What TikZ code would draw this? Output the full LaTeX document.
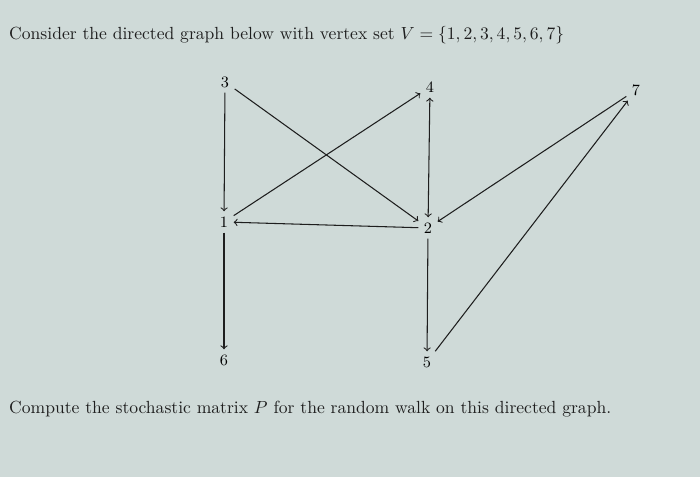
\documentclass[tikz,border=0pt]{standalone}
\begin{document}
\begin{tikzpicture}[vertex/.style={inner sep=3pt, font=\small}, edge/.style={semithick, ink}]
        \definecolor{paper}{RGB}{207,218,216}
        \definecolor{ink}{RGB}{30,30,30}
        \fill[paper] (0,0) rectangle (14,9.54);
        \useasboundingbox (0,0) rectangle (14,9.54);

        \node[anchor=west, text=ink] (title) at (0.06, 8.84) {Consider the directed graph below with vertex set $V=\{1,2,3,4,5,6,7\}$};
        \node[anchor=west, text=ink] (task) at (0.06, 1.36) {Compute the stochastic matrix $P$ for the random walk on this directed graph.};

        \node[vertex] (v3) at (4.50, 7.90) {$3$};
        \node[vertex] (v4) at (8.60, 7.80) {$4$};
        \node[vertex] (v7) at (12.72, 7.74) {$7$};
        \node[vertex] (v1) at (4.48, 5.10) {$1$};
        \node[vertex] (v2) at (8.56, 4.98) {$2$};
        \node[vertex] (v6) at (4.48, 2.34) {$6$};
        \node[vertex] (v5) at (8.54, 2.30) {$5$};

        \draw[->, edge] (v3) -- (v1);
        \draw[->, edge] (v3) -- (v2);
        \draw[->, edge] (v1) -- (v4);
        \draw[->, edge] (v2) -- (v1);
        \draw[<->, edge] (v4) -- (v2);
        \draw[->, edge] (v7) -- (v2);
        \draw[->, edge] (v1) -- (v6);
        \draw[->, edge] (v2) -- (v5);
        \draw[->, edge] (v5) -- (v7);
    \end{tikzpicture}
\end{document}
